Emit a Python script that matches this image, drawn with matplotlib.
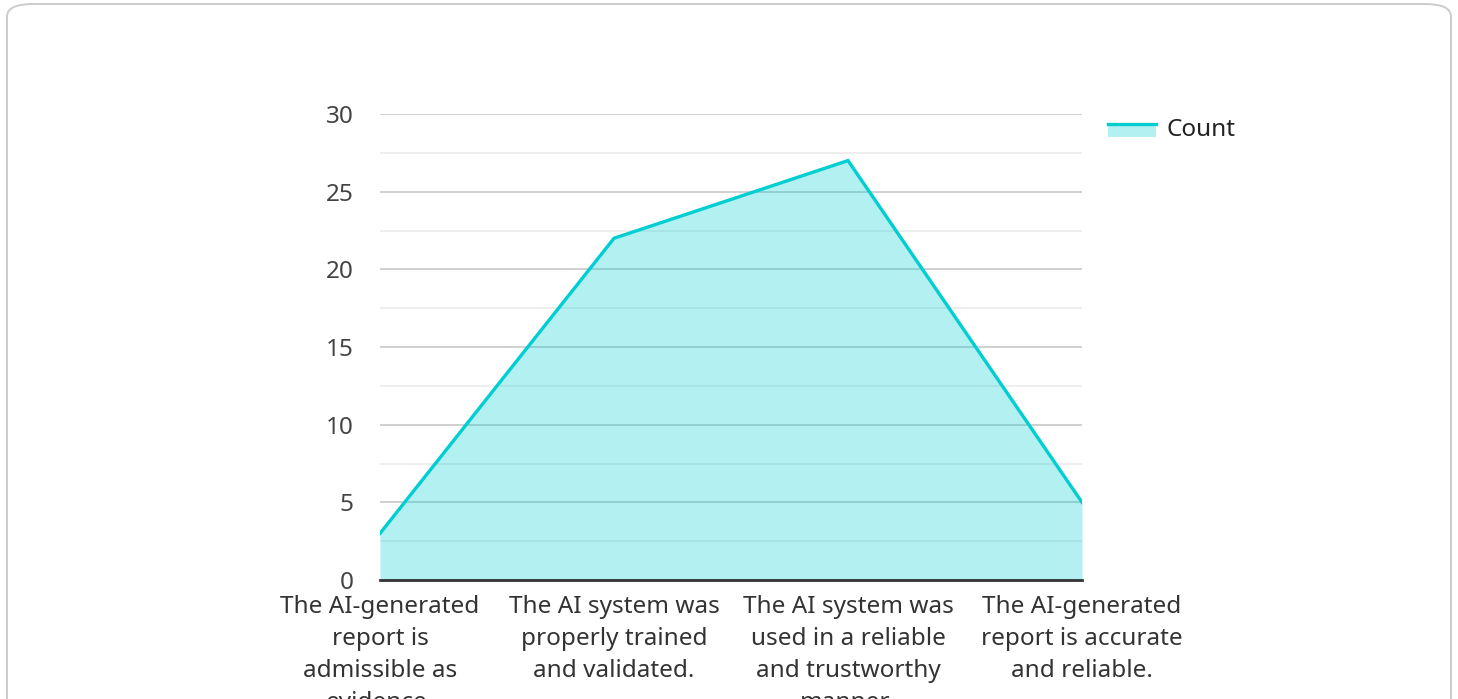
import matplotlib
matplotlib.use("Agg")
import matplotlib.pyplot as plt
from matplotlib.patches import FancyBboxPatch
from matplotlib.lines import Line2D

plt.rcParams["font.family"] = ["Noto Sans", "DejaVu Sans"]

categories = [
    "The AI-generated\nreport is\nadmissible as\nevidence.",
    "The AI system was\nproperly trained\nand validated.",
    "The AI system was\nused in a reliable\nand trustworthy\nmanner.",
    "The AI-generated\nreport is accurate\nand reliable.",
]
counts = [3, 22, 27, 5]
series_name = "Count"

LINE = "#00CED1"
FILL = "#B2F0F1"

W, H = 1458, 699
fig = plt.figure(figsize=(W / 100, H / 100), dpi=100)

# rounded card frame behind everything
frame = FancyBboxPatch((7 / W, -0.05), (1444 / W), 1 - 4 / H + 0.05,
                       boxstyle="round,pad=0,rounding_size=0.018",
                       transform=fig.transFigure, facecolor="white",
                       edgecolor="#cccccc", linewidth=1.4, zorder=-10)
fig.patches.append(frame)

ax = fig.add_axes([380 / W, 1 - 580 / H, 702 / W, 466 / H], zorder=1)
ax.set_facecolor("none")
x = list(range(len(counts)))

ax.set_yticks([0, 5, 10, 15, 20, 25, 30])
ax.set_yticks([2.5, 7.5, 12.5, 17.5, 22.5, 27.5], minor=True)
ax.grid(axis="y", which="major", color="#c8c8c8", linewidth=1.2, zorder=0)
ax.grid(axis="y", which="minor", color="#ebebeb", linewidth=1.2, zorder=0)
ax.set_axisbelow(True)

ax.fill_between(x, counts, 0, color=LINE, alpha=0.3, linewidth=0, zorder=2)
ax.plot(x, counts, color=LINE, linewidth=2.4, zorder=3, solid_joinstyle="miter")

ax.set_xlim(0, len(counts) - 1)
ax.set_ylim(0, 30)
ax.set_xticks(x)
ax.set_xticklabels(categories, fontsize=17.5, color="#333333", linespacing=1.45)
ax.tick_params(axis="x", length=0, pad=10.5)
ax.tick_params(axis="y", which="both", length=0, pad=19, labelsize=17.5,
               labelcolor="#444444")

for s in ["left", "right", "top"]:
    ax.spines[s].set_visible(False)
ax.spines["bottom"].set_color("#333333")
ax.spines["bottom"].set_linewidth(2)
ax.spines["bottom"].set_zorder(4)


class AreaHandler:
    def legend_artist(self, legend, orig_handle, fontsize, handlebox):
        x0, y0 = handlebox.xdescent, handlebox.ydescent
        w, h = handlebox.width, handlebox.height
        tr = handlebox.get_transform()
        rect = plt.Rectangle((x0, y0), w, h * 0.8, facecolor=FILL,
                             edgecolor="none", transform=tr)
        ln = Line2D([x0, x0 + w], [y0 + h * 0.8, y0 + h * 0.8], color=LINE,
                    linewidth=2.4, transform=tr)
        handlebox.add_artist(rect)
        handlebox.add_artist(ln)
        return rect


fig.legend([object()], [series_name], handler_map={object: AreaHandler()},
           loc="upper left", bbox_to_anchor=(1086 / W, 1 - 96 / H),
           frameon=False, fontsize=17.5, handlelength=2.0, handleheight=0.6,
           handletextpad=0.4, labelcolor="#222222")

fig.savefig("out.png", dpi=100)
